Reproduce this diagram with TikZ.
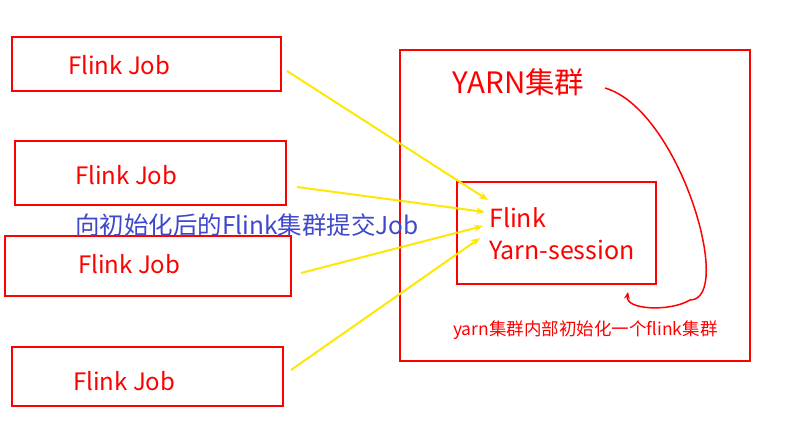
\documentclass[tikz,border=0pt]{standalone}
\usepackage{fontspec}
\setmainfont{Noto Sans CJK SC}
\usetikzlibrary{arrows.meta}
\begin{document}
\begin{tikzpicture}[x=1pt,y=-1pt,
  rbox/.style={draw=red,line width=1.5pt},
  jobtxt/.style={text=red,font=\fontsize{24}{26}\selectfont,anchor=west,inner sep=0},
  yarrow/.style={draw=yellow!90!orange,line width=2pt,-{Stealth[length=9pt,width=7pt]}}]
\useasboundingbox (0,0) rectangle (797,430);
\draw[rbox] (12,37) rectangle (281,91);
\draw[rbox] (15,141) rectangle (286,205);
\draw[rbox] (5,236) rectangle (291,296);
\draw[rbox] (12,347) rectangle (283,406);
\draw[rbox] (400,50) rectangle (750,361);
\draw[rbox] (457,182) rectangle (656,284);
\node[jobtxt] (j1) at (68,65) {Flink Job};
\node[jobtxt] (j2) at (75,175) {Flink Job};
\node[jobtxt] (j3) at (78,264) {Flink Job};
\node[jobtxt] (j4) at (73,381) {Flink Job};
\node[text=red,font=\fontsize{29.5}{30}\selectfont,anchor=west,inner sep=0] (yarn) at (452,82) {YARN集群};
\node[text=red,font=\fontsize{25}{30}\selectfont,anchor=west,inner sep=0] (fl) at (489,218) {Flink};
\node[text=red,font=\fontsize{25}{30}\selectfont,anchor=west,inner sep=0] (ys) at (489,250) {Yarn-session};
\node[text={rgb,255:red,63;green,72;blue,204},font=\fontsize{24.5}{26}\selectfont,anchor=west,inner sep=0] (sub) at (75,225) {向初始化后的Flink集群提交Job};
\node[text=red,font=\fontsize{17.5}{20}\selectfont,anchor=west,inner sep=0] (note) at (453,330) {yarn集群内部初始化一个flink集群};
\coordinate (a1) at (287,71); \coordinate (b1) at (488,200);
\coordinate (a2) at (297,187); \coordinate (b2) at (485,212);
\coordinate (a3) at (301,273); \coordinate (b3) at (483,226);
\coordinate (a4) at (291,370); \coordinate (b4) at (480,238);
\draw[yarrow] (a1) -- (b1);
\draw[yarrow] (a2) -- (b2);
\draw[yarrow] (a3) -- (b3);
\draw[yarrow] (a4) -- (b4);
\coordinate (c0) at (605,88); \coordinate (c1) at (690,300); \coordinate (c2) at (628,292);
\draw[red,line width=1.5pt,-{Stealth[length=7pt,width=6pt]}] (c0) .. controls (680,110) and (735,300) .. (c1) .. controls (670,312) and (625,310) .. (c2);
\end{tikzpicture}
\end{document}
